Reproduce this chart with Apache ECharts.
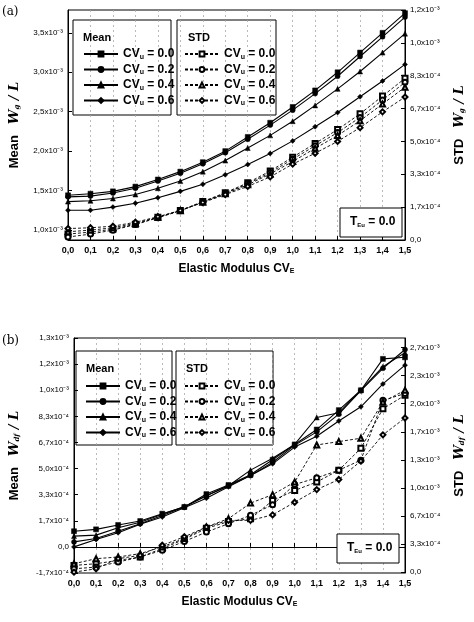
<!DOCTYPE html>
<html><head><meta charset="utf-8">
<script src="https://cdn.jsdelivr.net/npm/echarts@6/dist/echarts.min.js"></script>
<style>html,body{margin:0;padding:0;background:#fff}#c{width:474px;height:622px}</style>
</head><body><div id="c"></div>
<script>
const xVals = [0,0.1,0.2,0.3,0.4,0.5,0.6,0.7,0.8,0.9,1.0,1.1,1.2,1.3,1.4,1.5];
const cvLabels = ['0.0','0.2','0.4','0.6'];
// Panel (a): mean Wg/L in 1e-3 units
const aMean0 = [1.44,1.46,1.49,1.55,1.64,1.74,1.86,2.00,2.18,2.36,2.56,2.77,3.00,3.25,3.50,3.75];
const aMean2 = [1.42,1.43,1.47,1.53,1.62,1.72,1.84,1.98,2.15,2.33,2.52,2.73,2.95,3.20,3.45,3.70];
const aMean4 = [1.36,1.37,1.40,1.45,1.53,1.62,1.74,1.88,2.04,2.20,2.38,2.58,2.79,3.01,3.25,3.49];
const aMean6 = [1.25,1.25,1.29,1.34,1.41,1.49,1.58,1.70,1.83,1.97,2.13,2.31,2.49,2.69,2.89,3.10];
// Panel (a): STD Wg/L in 1e-4 units
const aStd0 = [0.30,0.40,0.55,0.80,1.15,1.50,1.95,2.40,2.90,3.50,4.20,4.90,5.60,6.40,7.30,8.20];
const aStd2 = [0.15,0.30,0.50,0.78,1.13,1.48,1.93,2.37,2.85,3.42,4.10,4.78,5.45,6.22,7.10,8.00];
const aStd4 = [0.42,0.50,0.62,0.85,1.15,1.49,1.92,2.34,2.80,3.35,3.98,4.65,5.30,6.05,6.90,7.75];
const aStd6 = [0.58,0.62,0.70,0.90,1.18,1.50,1.90,2.30,2.72,3.20,3.85,4.40,5.00,5.70,6.50,7.25];
// Panel (b): mean Wdf/L in 1e-4 units
const bMean0 = [1.00,1.12,1.40,1.65,2.12,2.55,3.37,3.95,4.60,5.56,6.54,7.49,8.73,10.0,12.0,12.1];
const bMean2 = [0.32,0.54,1.00,1.48,2.00,2.55,3.26,3.90,4.55,5.40,6.48,7.34,8.47,9.97,11.4,12.6];
const bMean4 = [0.69,0.75,1.22,1.57,2.08,2.57,3.26,3.90,4.90,5.66,6.54,8.26,8.56,10.0,11.5,12.4];
const bMean6 = [0.00,0.47,0.90,1.44,1.91,2.50,3.10,3.84,4.55,5.30,6.37,7.06,8.04,8.94,10.4,11.6];
// Panel (b): STD Wdf/L in 1e-4 units
const bStd0 = [0.8,1.0,1.4,1.8,2.8,3.9,5.2,6.0,6.35,8.5,9.7,10.7,12.1,14.7,19.4,21.0];
const bStd2 = [0.4,0.6,1.2,1.8,2.6,3.65,4.76,5.75,6.75,8.0,10.4,11.2,12.1,13.3,20.4,21.2];
const bStd4 = [1.0,1.6,1.8,2.2,3.0,4.0,5.36,6.35,8.2,9.2,10.7,15.1,15.5,15.9,20.2,21.6];
const bStd6 = [0.0,0.4,1.6,2.0,3.2,4.2,5.36,6.15,6.15,6.8,8.3,9.8,11.0,13.2,16.3,18.3];
// tick positions (in axis units)
const aLeftTicks = [1.0,1.5,2.0,2.5,3.0,3.5];          // x1e-3
const aRightTicks = [0,1,2,3,4,5,6,7].map(k=>k*10/6);  // x1e-4
const bLeftTicks = [-1,0,1,2,3,4,5,6,7,8].map(k=>k*10/6); // x1e-4
const bRightTicks = [0,1,2,3,4,5,6,7,8].map(k=>k*10/3);   // x1e-4

const sup = {'-':'⁻','0':'⁰','1':'¹','2':'²','3':'³','4':'⁴','5':'⁵','6':'⁶','7':'⁷','8':'⁸','9':'⁹'};
function fmt(v){
  if (Math.abs(v) < 1e-12) return '0,0';
  let e = Math.floor(Math.log10(Math.abs(v))+1e-9);
  let m = v/Math.pow(10,e);
  let ms = m.toFixed(1);
  if (Math.abs(parseFloat(ms))>=10){ e+=1; ms=(v/Math.pow(10,e)).toFixed(1); }
  return ms.replace('.',',') + 'x10' + String(e).split('').map(c=>sup[c]).join('');
}
const F = 'Liberation Sans';
const chart = echarts.init(document.getElementById('c'), null, {renderer:'canvas'});
const symM = ['rect','circle','triangle','diamond'];
const symS = ['emptyRect','emptyCircle','emptyTriangle','emptyDiamond'];
function mk(name, data, xi, yi, sym, dashed){
  return {name, type:'line', xAxisIndex:xi, yAxisIndex:yi, data:xVals.map((x,i)=>[x,data[i]]),
    symbol:sym, symbolSize:dashed?5:5, showSymbol:true,
    lineStyle:{color:'#000', width:dashed?0.9:1.1, type:dashed?[3,2]:'solid'},
    itemStyle:{color:'#000', borderColor:'#000', borderWidth:dashed?0.7:0.5},
    z: dashed?2:3, animation:false};
}
const series = [];
[aMean0,aMean2,aMean4,aMean6].forEach((d,i)=>series.push(mk('am'+i,d,0,0,symM[i],false)));
[aStd0,aStd2,aStd4,aStd6].forEach((d,i)=>series.push(mk('as'+i,d,0,1,symS[i],true)));
[bMean0,bMean2,bMean4,bMean6].forEach((d,i)=>series.push(mk('bm'+i,d,1,2,symM[i],false)));
[bStd0,bStd2,bStd4,bStd6].forEach((d,i)=>series.push(mk('bs'+i,d,1,3,symS[i],true)));

function xAx(gi){
  return {type:'value', gridIndex:gi, min:0, max:1.5, interval:0.1,
    axisLine:{lineStyle:{color:'#000'}}, axisTick:{inside:true, length:4, lineStyle:{color:'#000'}},
    axisLabel:{color:'#000', fontFamily:F, fontSize:9, fontWeight:'bold', margin:6, formatter:v=>v.toFixed(1).replace('.',',')},
    splitLine:{show:true, lineStyle:{color:'#aaa', type:[2,3], width:0.8}},
    name:'{a|Elastic Modulus CV}{s|E}', nameLocation:'middle', nameGap:22,
    nameTextStyle:{rich:{a:{fontFamily:F,fontSize:12,fontWeight:'bold',color:'#000'},
      s:{fontFamily:F,fontSize:7,fontWeight:'bold',color:'#000',verticalAlign:'bottom',padding:[6,0,0,0]}}}};
}
function yAx(gi, pos, min, max, ticks, unit, nameRich, gap){
  return {type:'value', gridIndex:gi, position:pos, min, max,
    axisLine:{show:true, lineStyle:{color:'#000'}},
    axisTick:{inside:true, length:4, customValues:ticks, lineStyle:{color:'#000'}},
    axisLabel:{customValues:ticks, color:'#000', fontFamily:F, fontSize:8, margin:5, formatter:v=>fmt(v*unit)},
    splitLine:{show:false},
    name:nameRich, nameLocation:'middle', nameGap:gap, nameRotate:90,
    nameTextStyle:{rich:{b:{fontFamily:F,fontSize:13,fontWeight:'bold',color:'#000'},
      i:{fontFamily:'DejaVu Serif',fontSize:13,fontStyle:'italic',fontWeight:'bold',color:'#000'},
      s:{fontFamily:'DejaVu Serif',fontSize:7,fontStyle:'italic',fontWeight:'bold',color:'#000',verticalAlign:'bottom',padding:[6,0,0,0]}}}};
}
function leg(names, left, top){
  return {data:names, orient:'vertical', left, top, itemGap:3, itemWidth:34, itemHeight:6,
    selectedMode:false, padding:0,
    formatter:n=>'{a|CV}{s|u}{a| = '+cvLabels[+n.slice(-1)]+'}',
    textStyle:{rich:{a:{fontFamily:F,fontSize:12,fontWeight:'bold',color:'#000'},
      s:{fontFamily:F,fontSize:7,fontWeight:'bold',color:'#000',verticalAlign:'bottom',padding:[6,0,0,0]}}}};
}
function box(x,y,w,h){return {type:'rect', shape:{x,y,width:w,height:h}, style:{fill:'#fff',stroke:'#000',lineWidth:1}, z:5};}
function txt(x,y,t,size){return {type:'text', x, y, style:{text:t, fontFamily:F, fontSize:size, fontWeight:'bold', fill:'#000'}, z:6};}
function tbox(x,y){return [box(x,y,62,29),
  {type:'text', x:x+10, y:y+8, z:6, style:{rich:{a:{fontFamily:F,fontSize:12,fontWeight:'bold',fill:'#000'},
    s:{fontFamily:F,fontSize:6,fontWeight:'bold',fill:'#000',verticalAlign:'bottom',padding:[6,0,0,0]}}, text:'{a|T}{s|Eu}{a| = 0.0}'}}];}

chart.setOption({
  animation:false,
  grid:[{left:62, right:62, top:10, height:230, show:true, borderColor:'#000', borderWidth:1, backgroundColor:'transparent'},
        {left:69, right:62, top:338, height:235, show:true, borderColor:'#000', borderWidth:1, backgroundColor:'transparent'}],
  xAxis:[xAx(0), xAx(1)],
  yAxis:[yAx(0,'left',0.873,3.79,aLeftTicks,1e-3,'{b|Mean   }{i|W}{s|g}{i| / L}',47),
         yAx(0,'right',0,70/6,aRightTicks,1e-4,'{b|STD   }{i|W}{s|g}{i| / L}',48),
         yAx(1,'left',-10/6,80/6,bLeftTicks,1e-4,'{b|Mean   }{i|W}{s|df}{i| / L}',53),
         yAx(1,'right',-0.1,27.8,bRightTicks,1e-4,'{b|STD   }{i|W}{s|df}{i| / L}',48)],
  legend:[leg(['am0','am1','am2','am3'],83,48), leg(['as0','as1','as2','as3'],184,48),
          leg(['bm0','bm1','bm2','bm3'],85,380), leg(['bs0','bs1','bs2','bs3'],184,380)],
  graphic:[
    Object.assign(box(73,20,98,95),{z:0}), Object.assign(box(177,20,99,95),{z:0}),
    Object.assign(box(76,351,96,94),{z:0}), Object.assign(box(176,351,97,94),{z:0}),
    txt(83,32,'Mean',11), txt(188,32,'STD',11),
    txt(86,363,'Mean',11), txt(186,363,'STD',11),
    ...tbox(340,208), ...tbox(337,534),
    {type:'text', x:2, y:6, style:{text:'(a)', fontFamily:'DejaVu Serif', fontSize:12, fill:'#000'}},
    {type:'text', x:2, y:335, style:{text:'(b)', fontFamily:'DejaVu Serif', fontSize:12, fill:'#000'}}
  ],
  series
});
</script></body></html>
